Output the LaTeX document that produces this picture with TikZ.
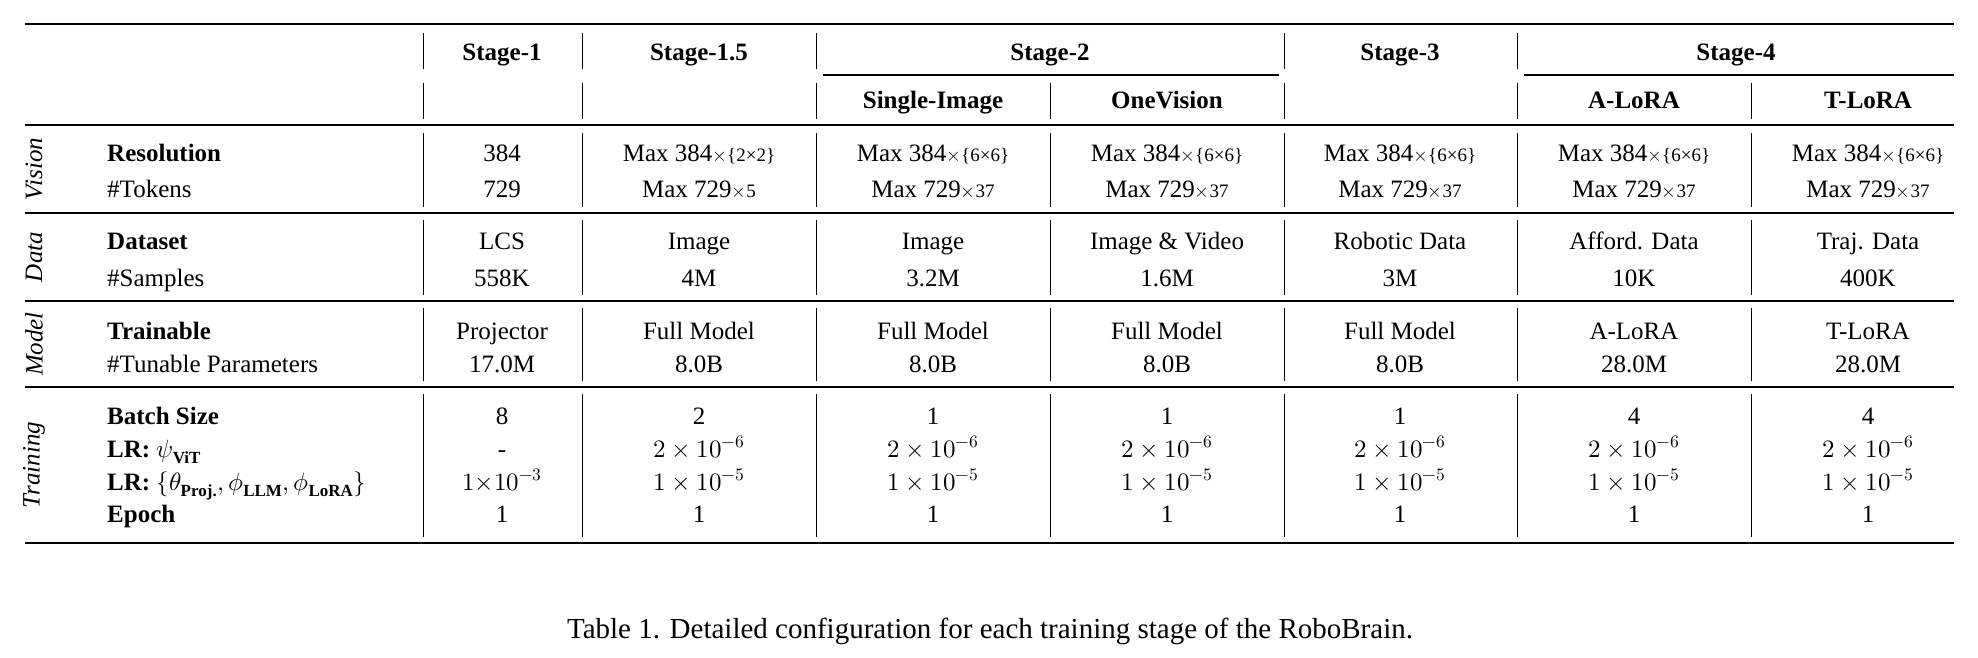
\documentclass[tikz,border=0pt]{standalone}
\usepackage{amsmath}
\usepackage{fontspec}
\usepackage{unicode-math}
\setmainfont{Liberation Serif}
\setmathfont{Latin Modern Math}
\begin{document}
\begin{tikzpicture}[x=1pt,y=-1pt,
  every node/.style={inner sep=0pt,anchor=base,font=\fontsize{25}{28}\selectfont},
  bf/.style={font=\fontsize{25}{28}\selectfont\bfseries},
  lab/.style={anchor=base west,font=\fontsize{25}{28}\selectfont},
  blab/.style={anchor=base west,font=\fontsize{25}{28}\selectfont\bfseries},
  cat/.style={anchor=center,rotate=90,font=\fontsize{25}{28}\selectfont\itshape},
  thick rule/.style={line width=2pt},
  mid rule/.style={line width=1.2pt},
  vbar/.style={line width=1pt}]
\useasboundingbox (0,0) rectangle (1978,658);
\newcommand\sx[1]{{\fontsize{19}{22}\selectfont$\times$#1}}
\newcommand\bsub[1]{\text{\fontsize{17}{20}\selectfont\bfseries #1}}
% rules
\draw[thick rule] (25,24) -- (1954,24);
\draw[mid rule] (25,125) -- (1954,125);
\draw[mid rule] (25,213) -- (1954,213);
\draw[mid rule] (25,301) -- (1954,301);
\draw[mid rule] (25,387) -- (1954,387);
\draw[line width=2.6pt] (25,543) -- (1954,543);
\draw[mid rule] (823,75) -- (1279,75);
\draw[mid rule] (1524,75) -- (1954,75);
% vertical bars
\foreach \x in {423,582,816,1284,1517}{
  \draw[vbar] (\x,33) -- (\x,69);}
\foreach \x in {423,582,816,1050,1284,1517,1751}{
  \draw[vbar] (\x,83) -- (\x,119);
  \draw[vbar] (\x,133) -- (\x,207);
  \draw[vbar] (\x,220) -- (\x,295);
  \draw[vbar] (\x,308) -- (\x,381);
  \draw[vbar] (\x,394) -- (\x,537);}
% headers
\node[bf] (h1) at (502,61) {Stage-1};
\node[bf] (h15) at (699,61) {Stage-1.5};
\node[bf] (h2) at (1050,61) {Stage-2};
\node[bf] (h3) at (1400,61) {Stage-3};
\node[bf] (h4) at (1736,61) {Stage-4};
\node[bf] (hsi) at (933,109) {Single-Image};
\node[bf] (hov) at (1167,109) {OneVision};
\node[bf] (ha) at (1634,109) {A-LoRA};
\node[bf] (ht) at (1868,109) {T-LoRA};
% categories
\node[cat] (cv) at (34,169) {Vision};
\node[cat] (cd) at (34,257) {Data};
\node[cat] (cm) at (34,344) {Model};
\node[cat] (ct) at (34,465) {Training};
% row labels
\node[blab] (l1) at (107,161) {Resolution};
\node[lab] (l2) at (107,197) {\#Tokens};
\node[blab] (l3) at (107,249) {Dataset};
\node[lab] (l4) at (107,286) {\#Samples};
\node[blab] (l5) at (107,339) {Trainable};
\node[lab] (l6) at (107,372) {\#Tunable Parameters};
\node[blab] (l7) at (107,424) {Batch Size};
\node[blab] (l8) at (107,457) {LR: $\psi_{\bsub{ViT}}$};
\node[blab] (l9) at (107,490) {LR: $\{\theta_{\bsub{Proj.}},\phi_{\bsub{LLM}},\phi_{\bsub{LoRA}}\}$};
\node[blab] (l10) at (107,522) {Epoch};
% data
\foreach \x/\a/\b/\c/\d/\e/\f/\g/\h/\i/\j in {
  502/384/729/LCS/558K/Projector/17.0M/8/-/$1{\times}10^{-3}$/1,
  699/Max 384\sx{\{2\times2\}}/Max 729\sx{5}/Image/4M/Full Model/8.0B/2/$2\times10^{-6}$/$1\times10^{-5}$/1,
  933/Max 384\sx{\{6\times6\}}/Max 729\sx{37}/Image/3.2M/Full Model/8.0B/1/$2\times10^{-6}$/$1\times10^{-5}$/1,
  1167/Max 384\sx{\{6\times6\}}/Max 729\sx{37}/Image \& Video/1.6M/Full Model/8.0B/1/$2\times10^{-6}$/$1\times10^{-5}$/1,
  1400/Max 384\sx{\{6\times6\}}/Max 729\sx{37}/Robotic Data/3M/Full Model/8.0B/1/$2\times10^{-6}$/$1\times10^{-5}$/1,
  1634/Max 384\sx{\{6\times6\}}/Max 729\sx{37}/Afford. Data/10K/A-LoRA/28.0M/4/$2\times10^{-6}$/$1\times10^{-5}$/1,
  1868/Max 384\sx{\{6\times6\}}/Max 729\sx{37}/Traj. Data/400K/T-LoRA/28.0M/4/$2\times10^{-6}$/$1\times10^{-5}$/1}{
  \node (r1-\x) at (\x,161) {\a};
  \node (r2-\x) at (\x,197) {\b};
  \node (r3-\x) at (\x,249) {\c};
  \node (r4-\x) at (\x,286) {\d};
  \node (r5-\x) at (\x,339) {\e};
  \node (r6-\x) at (\x,372) {\f};
  \node (r7-\x) at (\x,424) {\g};
  \node (r8-\x) at (\x,457) {\h};
  \node (r9-\x) at (\x,490) {\i};
  \node (r10-\x) at (\x,522) {\j};
}
\node[font=\fontsize{29}{34}\selectfont] (cap) at (990,638) {Table 1. Detailed configuration for each training stage of the RoboBrain.};
\end{tikzpicture}
\end{document}
